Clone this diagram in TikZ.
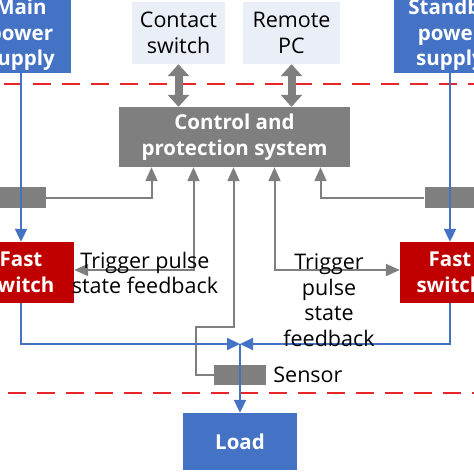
\documentclass[tikz,border=0pt]{standalone}
\usepackage{fontspec}
\setmainfont{Open Sans}
\usepackage{xcolor}
\usetikzlibrary{arrows.meta, positioning}
\definecolor{boxblue}{HTML}{4472C4}
\definecolor{boxred}{HTML}{C00000}
\definecolor{boxgray}{HTML}{7F7F7F}
\definecolor{paleblue}{HTML}{E9EEF7}
\definecolor{dashred}{HTML}{E8262A}
\newcommand{\diagfont}{\fontsize{21.5}{25.5}\selectfont}
\newcommand{\boldfont}{\fontsize{20.5}{25.5}\selectfont\bfseries}
\tikzstyle{solidbox} = [inner sep=0pt, align=center, font=\boldfont, text=white]
\tikzstyle{bluebox} = [solidbox, fill=boxblue]
\tikzstyle{redbox} = [solidbox, fill=boxred]
\tikzstyle{graybox} = [solidbox, fill=boxgray]
\tikzstyle{palebox} = [inner sep=0pt, align=center, font=\diagfont, fill=paleblue]
\tikzstyle{lbl} = [inner sep=0pt, align=center, font=\diagfont]
\tikzstyle{bluearrow} = [boxblue, line width=2pt, -{Triangle[width=12pt,length=13pt]}]
\tikzstyle{grayarrow} = [boxgray, line width=2pt, -{Triangle[width=12pt,length=14pt]}]
\tikzstyle{grayboth} = [boxgray, line width=2pt, {Triangle[width=12pt,length=14pt]}-{Triangle[width=12pt,length=14pt]}]
\tikzstyle{comm} = [boxgray, line width=8pt, {Triangle[width=21pt,length=12pt]}-{Triangle[width=21pt,length=12pt]}]
\tikzstyle{dashline} = [dashred, line width=2.5pt, dash pattern=on 18pt off 11pt]

\begin{document}
\begin{tikzpicture}[x=1pt,y=-1pt]
\useasboundingbox (0,0) rectangle (474,474);
\clip (0,0) rectangle (474,474);

% Power supplies and communication
\node[bluebox, minimum width=100pt, minimum height=76pt] (main) at (21,35) {Main\\power\\supply};
\node[bluebox, minimum width=112pt, minimum height=76pt] (standby) at (450,35) {Standby\\power\\supply};
\node[palebox, minimum width=93pt, minimum height=62pt] (contact) at (178.5,33) {Contact\\switch};
\node[palebox, minimum width=97pt, minimum height=62pt] (remote) at (291.5,33) {Remote\\PC};

% Boundary lines
\draw[dashline] (4,84) -- (474,84);
\draw[dashline] (8,393) -- (474,393);

% Control unit
\node[graybox, minimum width=231pt, minimum height=60pt] (ctrl) at (234.5,137) {Control and\\protection system};

% Sampling boxes
\node[graybox, minimum width=66pt, minimum height=21pt] (sensL) at (13,197.5) {};
\node[graybox, minimum width=75pt, minimum height=21pt] (sensR) at (462,197.5) {};

% Fast switches
\node[redbox, minimum width=106pt, minimum height=61pt] (fastL) at (21,272.5) {Fast\\switch};
\node[redbox, minimum width=100pt, minimum height=61pt] (fastR) at (450,272.5) {Fast\\switch};

% Sensor and load
\node[graybox, minimum width=52pt, minimum height=20pt] (sensor) at (240,375) {};
\node[bluebox, minimum width=114pt, minimum height=57pt] (load) at (240,441.5) {Load};
\coordinate (junc) at (240,344);

% Communication links
\draw[comm] (contact.south) -- (contact.south |- ctrl.north);
\draw[comm] (remote.south) -- (remote.south |- ctrl.north);

% Signal lines
\draw[grayarrow] (sensL.east) -| ([xshift=-83pt]ctrl.south);
\draw[grayarrow] (sensR.west) -| ([xshift=86pt]ctrl.south);
\draw[grayboth] ([xshift=-41pt]ctrl.south) |- ([yshift=2.5pt]fastL.east);
\draw[grayboth] ([xshift=40pt]ctrl.south) |- ([yshift=2.5pt]fastR.west);
\draw[grayarrow] (sensor.west) -- ++(-18,0) -- ++(0,-48) -| ([xshift=-1pt]ctrl.south);

% Power lines
\draw[bluearrow] (main.south) -- (fastL.north);
\draw[bluearrow] (standby.south) -- (fastR.north);
\draw[bluearrow] (fastL.south) |- (junc);
\draw[bluearrow] (fastR.south) |- (junc);
\draw[bluearrow] (junc) -- (load.north);

% Labels
\node[lbl] (trigL) at (145,273) {Trigger pulse\\state feedback};
\node[lbl] (trigR) at (329,300) {Trigger\\pulse\\state\\feedback};
\node[lbl, right=7pt of sensor] (senslbl) {Sensor};
\end{tikzpicture}
\end{document}
